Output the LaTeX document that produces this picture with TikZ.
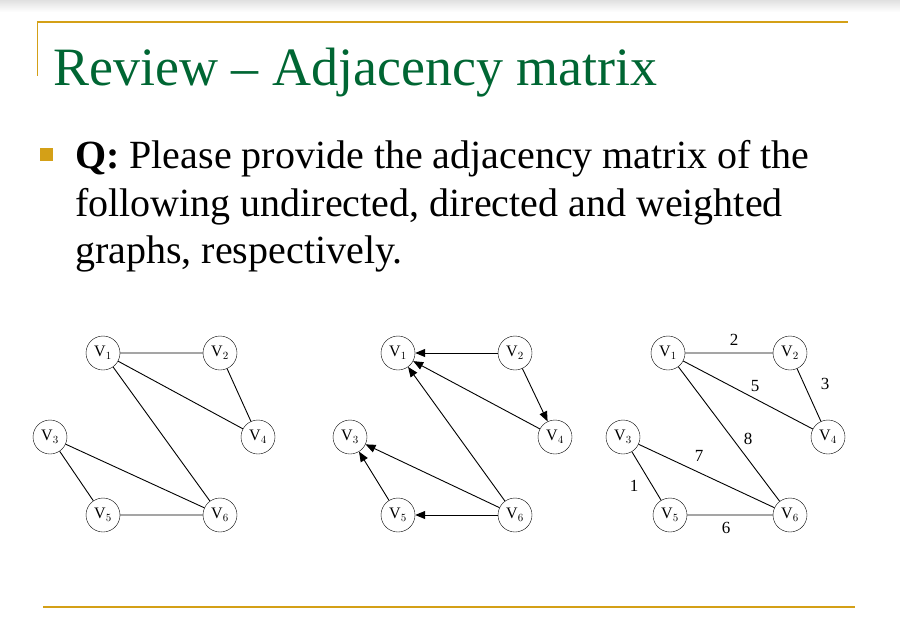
\documentclass[tikz,border=0pt]{standalone}
\usepackage{fontspec}
\setmainfont{Liberation Serif}
\usetikzlibrary{arrows.meta}
\definecolor{gold}{RGB}{212,160,23}
\definecolor{tgreen}{RGB}{0,102,51}
\tikzset{
 vx/.style={draw,circle,minimum size=34pt,inner sep=0pt,font=\fontsize{16}{16}\selectfont},
 ed/.style={draw,line width=0.9pt},
 arr/.style={ed,-{Triangle[length=10pt,width=8pt]}},
 wt/.style={font=\fontsize{17}{17}\selectfont}
}
\begin{document}
\begin{tikzpicture}[x=1pt,y=-1pt]
\useasboundingbox (0,0) rectangle (900,637);
\shade[top color=black!12,bottom color=white] (0,0) rectangle (900,12);
\draw[gold,line width=1.5pt] (37,22) -- (848,22);
\draw[gold,line width=1pt] (37,22) -- (37,76);
\draw[gold,line width=1.5pt] (43,607) -- (855,607);
\node[anchor=base west,text=tgreen,inner sep=0,font=\fontsize{54}{54}\selectfont] (title) at (53,85) {Review – Adjacency matrix};
\fill[gold] (40,148) rectangle (53,161) coordinate (bul);
\node[anchor=base west,inner sep=0,font=\fontsize{40}{48}\selectfont] (q) at (75,168) {\textbf{Q:} Please provide the adjacency matrix of the};
\node[anchor=base west,inner sep=0,font=\fontsize{40}{48}\selectfont] (q2) at (75,216) {following undirected, directed and weighted};
\node[anchor=base west,inner sep=0,font=\fontsize{40}{48}\selectfont] (q3) at (75,263) {graphs, respectively.};
% graph 1
\node[vx] (a1) at (103,353) {V$_1$};
\node[vx] (a2) at (220,353) {V$_2$};
\node[vx] (a3) at (50,437) {V$_3$};
\node[vx] (a4) at (258,437) {V$_4$};
\node[vx] (a5) at (103,515) {V$_5$};
\node[vx] (a6) at (220,515) {V$_6$};
\draw[ed] (a1)--(a2) (a1)--(a4) (a1)--(a6) (a2)--(a4) (a3)--(a6) (a3)--(a5) (a5)--(a6);
% graph 2
\node[vx] (b1) at (398,353) {V$_1$};
\node[vx] (b2) at (515,353) {V$_2$};
\node[vx] (b3) at (350,437) {V$_3$};
\node[vx] (b4) at (555,437) {V$_4$};
\node[vx] (b5) at (398,515) {V$_5$};
\node[vx] (b6) at (515,515) {V$_6$};
\draw[arr] (b2)--(b1);
\draw[arr] (b4)--(b1);
\draw[arr] (b6)--(b1);
\draw[arr] (b2)--(b4);
\draw[arr] (b6)--(b3);
\draw[arr] (b5)--(b3);
\draw[arr] (b6)--(b5);
% graph 3
\node[vx] (c1) at (668,353) {V$_1$};
\node[vx] (c2) at (790,353) {V$_2$};
\node[vx] (c3) at (623,437) {V$_3$};
\node[vx] (c4) at (828,437) {V$_4$};
\node[vx] (c5) at (670,515) {V$_5$};
\node[vx] (c6) at (790,515) {V$_6$};
\draw[ed] (c1)--(c2) (c1)--(c4) (c1)--(c6) (c2)--(c4) (c3)--(c6) (c3)--(c5) (c5)--(c6);
\node[wt] (w2) at (734,340) {2};
\node[wt] (w3) at (825,384) {3};
\node[wt] (w5) at (755,386) {5};
\node[wt] (w8) at (748,439) {8};
\node[wt] (w7) at (699,456) {7};
\node[wt] (w1) at (634,486) {1};
\node[wt] (w6) at (726,528) {6};
\end{tikzpicture}
\end{document}
